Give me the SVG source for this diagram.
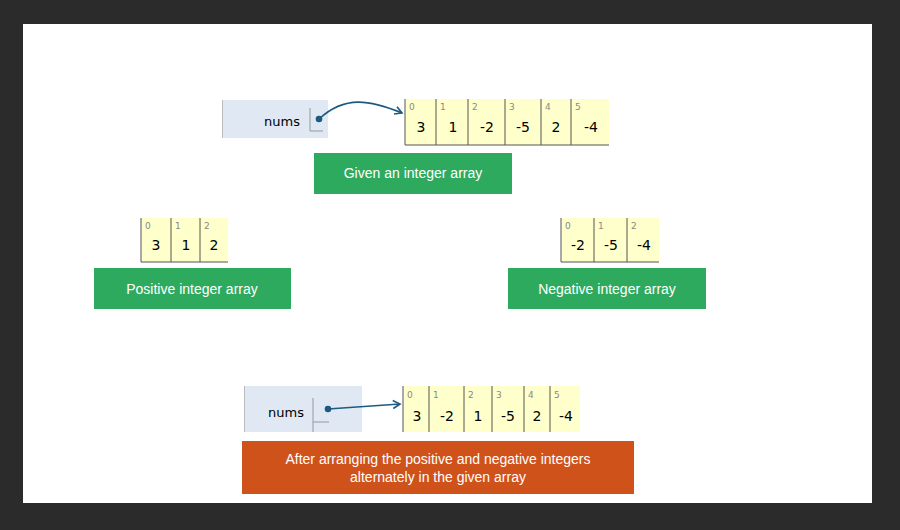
<svg xmlns="http://www.w3.org/2000/svg" width="900" height="530" viewBox="0 0 900 530">
<style>
.bg{fill:#2b2b2b}
.cell{fill:#ffffcc}
.ln{stroke:#555;stroke-width:1;fill:none}
.idx{font-family:"DejaVu Sans",sans-serif;font-size:9px;fill:#888}
.val{font-family:"DejaVu Sans",sans-serif;font-size:14px;fill:#000;text-anchor:middle}
.lbl{font-family:"Liberation Sans",Arial,sans-serif;font-size:14px;fill:#fff;text-anchor:middle}
.var{font-family:"DejaVu Sans",sans-serif;font-size:13px;fill:#000;text-anchor:end}
.nb{fill:#dfe8f3}
</style>
<defs><marker id="ah" markerWidth="10" markerHeight="10" refX="8" refY="5" orient="auto" markerUnits="userSpaceOnUse"><path d="M1,1 L8,5 L1,9" fill="none" stroke="#1d5a82" stroke-width="1.6"/></marker></defs>
<rect class="bg" width="900" height="530"/>
<rect x="23" y="24" width="849" height="479" fill="#fff"/>
<g id="nums1"><rect class="nb" x="222" y="100" width="106" height="38"/><line x1="222.5" y1="100" x2="222.5" y2="138" stroke="#bbb"/><text class="var" x="300" y="126">nums</text><path d="M310,108 V131 H323" stroke="#999" fill="none"/></g>
<g id="arr1"><rect class="cell" x="405" y="99" width="204" height="46"/>
<path class="ln" d="M405,99 V145 H609 M436,99 V145 M468,99 V145 M505,99 V145 M541,99 V145 M571,99 V145"/>
<text class="idx" x="409" y="110">0</text><text class="idx" x="440" y="110">1</text><text class="idx" x="472" y="110">2</text><text class="idx" x="509" y="110">3</text><text class="idx" x="545" y="110">4</text><text class="idx" x="575" y="110">5</text>
<text class="val" x="421" y="132">3</text><text class="val" x="453" y="132">1</text><text class="val" x="487" y="132">-2</text><text class="val" x="523" y="132">-5</text><text class="val" x="556" y="132">2</text><text class="val" x="591" y="132">-4</text></g>
<g id="lbl1"><rect x="314" y="153" width="198" height="41" fill="#2eaa5f"/><text class="lbl" x="413" y="178">Given an integer array</text></g>
<g id="pos"><rect class="cell" x="141" y="218" width="87" height="44"/>
<path class="ln" d="M141,218 V262 H228 M171,218 V262 M200,218 V262"/>
<text class="idx" x="145" y="229">0</text><text class="idx" x="175" y="229">1</text><text class="idx" x="204" y="229">2</text>
<text class="val" x="156" y="250">3</text><text class="val" x="186" y="250">1</text><text class="val" x="214" y="250">2</text></g>
<g id="lbl2"><rect x="94" y="268" width="197" height="41" fill="#2eaa5f"/><text class="lbl" x="192" y="294">Positive integer array</text></g>
<g id="neg"><rect class="cell" x="561" y="218" width="98" height="44"/>
<path class="ln" d="M561,218 V262 H659 M594,218 V262 M627,218 V262"/>
<text class="idx" x="565" y="229">0</text><text class="idx" x="598" y="229">1</text><text class="idx" x="631" y="229">2</text>
<text class="val" x="578" y="250">-2</text><text class="val" x="611" y="250">-5</text><text class="val" x="644" y="250">-4</text></g>
<g id="lbl3"><rect x="508" y="268" width="198" height="41" fill="#2eaa5f"/><text class="lbl" x="607" y="294">Negative integer array</text></g>
<g id="nums2"><rect class="nb" x="244" y="386" width="118" height="46"/><line x1="244.5" y1="386" x2="244.5" y2="432" stroke="#bbb"/><text class="var" x="304" y="417">nums</text><path d="M313,398 V432 M313,422 H329" stroke="#999" fill="none"/></g>
<g id="arr2"><rect class="cell" x="403" y="386" width="177" height="46"/>
<path class="ln" d="M403,386 V432 M429,386 V432 M464,386 V432 M492,386 V432 M524,386 V432 M550,386 V432"/>
<text class="idx" x="407" y="398">0</text><text class="idx" x="433" y="398">1</text><text class="idx" x="468" y="398">2</text><text class="idx" x="496" y="398">3</text><text class="idx" x="528" y="398">4</text><text class="idx" x="554" y="398">5</text>
<text class="val" x="417" y="421">3</text><text class="val" x="447" y="421">-2</text><text class="val" x="478" y="421">1</text><text class="val" x="508" y="421">-5</text><text class="val" x="537" y="421">2</text><text class="val" x="566" y="421">-4</text></g>
<g id="lbl4"><rect x="242" y="441" width="392" height="53" fill="#d0521b"/><text class="lbl" x="438" y="464">After arranging the positive and negative integers</text><text class="lbl" x="438" y="482">alternately in the given array</text></g>
<g id="connectors" stroke="#1d5a82" stroke-width="1.6" fill="none">
<circle cx="319" cy="119" r="2.5" fill="#1d5a82"/><path d="M319,119 C345,95 370,100 402,113" marker-end="url(#ah)"/>
<circle cx="328" cy="409" r="2.5" fill="#1d5a82"/><path d="M328,409 L400,404" marker-end="url(#ah)"/>
</g>
</svg>
